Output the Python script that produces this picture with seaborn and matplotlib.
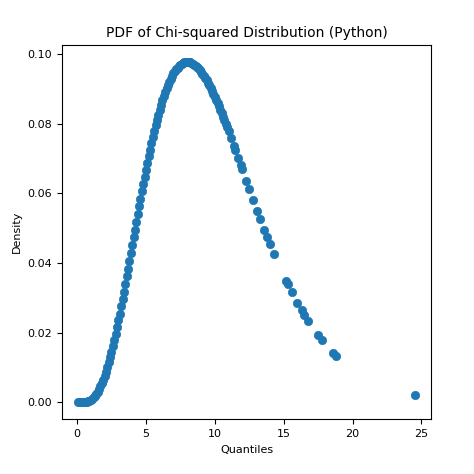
import numpy as np
import pandas as pd
import matplotlib
matplotlib.use("Agg")
import matplotlib.pyplot as plt
import seaborn as sns
from math import gamma

df_dof = 10
quantiles = [
    0.1, 0.2, 0.3, 0.4, 0.5, 0.6, 0.7, 0.8, 0.9, 1.0, 1.1, 1.2, 1.3, 1.4, 1.5,
    1.6, 1.7, 1.8, 1.9, 2.0, 2.1, 2.2, 2.3, 2.4, 2.5, 2.6, 2.7, 2.8, 2.9, 3.0,
    3.1, 3.2, 3.3, 3.4, 3.5, 3.6, 3.7, 3.8, 3.9, 4.0, 4.1, 4.2, 4.3, 4.4, 4.5,
    4.6, 4.7, 4.8, 4.9, 5.0, 5.1, 5.2, 5.3, 5.4, 5.5, 5.6, 5.7, 5.8, 5.9, 6.0,
    6.1, 6.2, 6.3, 6.4, 6.5, 6.6, 6.7, 6.8, 6.9, 7.0, 7.1, 7.2, 7.3, 7.4, 7.5,
    7.6, 7.7, 7.8, 7.9, 8.0, 8.1, 8.2, 8.3, 8.4, 8.5, 8.6, 8.7, 8.8, 8.9, 9.0,
    9.1, 9.2, 9.3, 9.4, 9.5, 9.6, 9.7, 9.8, 9.9, 10.0, 10.1, 10.2, 10.3, 10.4,
    10.5, 10.6, 10.7, 10.8, 10.9, 11.0, 11.2, 11.4, 11.5, 11.7, 11.9, 12.0,
    12.3, 12.5, 12.8, 13.1, 13.3, 13.6, 13.8, 14.0, 14.3, 15.2, 15.3, 15.6,
    16.0, 16.3, 16.5, 16.8, 17.5, 17.8, 18.6, 18.8, 24.5,
]
x = np.array(quantiles)
density = x ** (df_dof / 2 - 1) * np.exp(-x / 2) / (2 ** (df_dof / 2) * gamma(df_dof / 2))
data = pd.DataFrame({"Quantiles": x, "Density": density})

fig, ax = plt.subplots(figsize=(4.74, 4.74), dpi=100)
sns.scatterplot(data=data, x="Quantiles", y="Density", ax=ax, s=36,
                color="#1f77b4", edgecolor="#1f77b4", linewidth=0.5)
ax.set_title("PDF of Chi-squared Distribution (Python)", fontsize=10)
ax.set_xlabel("Quantiles", fontsize=8)
ax.set_ylabel("Density", fontsize=8)
ax.tick_params(labelsize=8)
ax.set_xticks([0, 5, 10, 15, 20, 25])
plt.subplots_adjust(left=0.13, right=0.91, top=0.905, bottom=0.115)
fig.savefig("out.png", dpi=100)
